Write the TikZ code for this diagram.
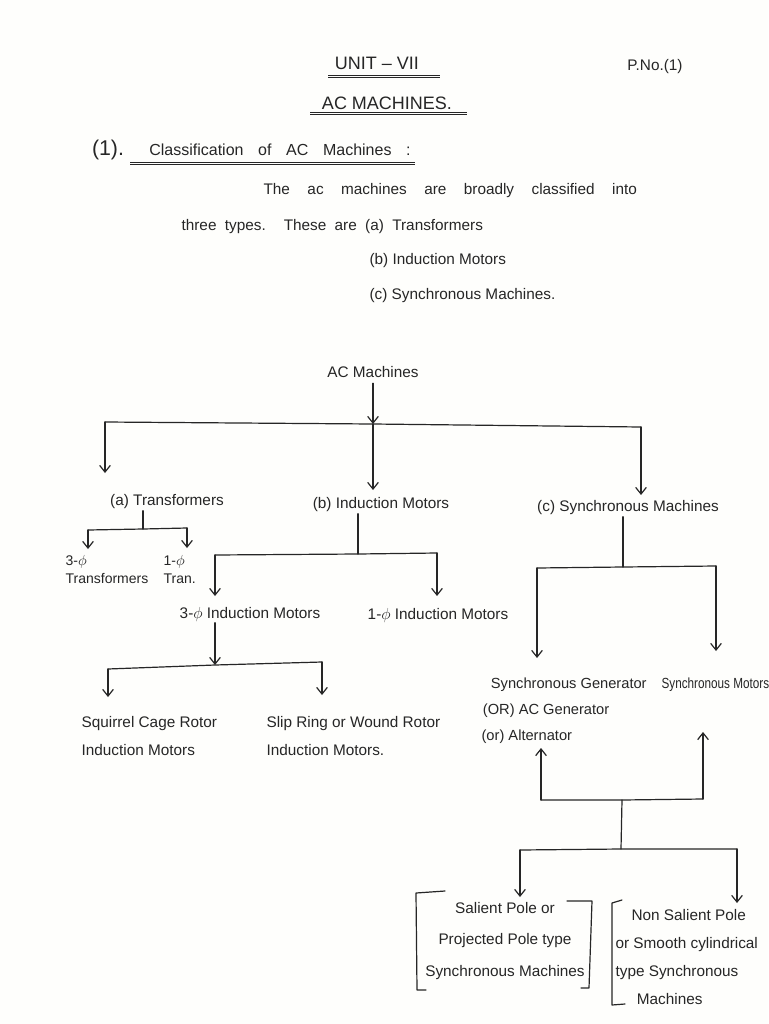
\documentclass[tikz,border=0pt]{standalone}
\usepackage{fontspec}
\setmainfont{Liberation Sans}
\usetikzlibrary{arrows.meta}
\definecolor{tinta}{HTML}{262626}
\definecolor{paper}{HTML}{FEFEFC}
\tikzset{
  text nota/.style={text=tinta, font=\fontsize{11.5}{14}\selectfont, inner sep=1pt},
  titol/.style={text=tinta, font=\fontsize{13.5}{16}\selectfont, inner sep=1pt},
  linia/.style={draw=tinta, line width=.9pt, line join=round, line cap=round},
  fletxa/.style={linia, -{Straight Barb[length=5pt,width=8pt]}},
  subratllat/.style={draw=tinta, line width=.55pt, double=paper, double distance=1.3pt},
}

\begin{document}
\begin{tikzpicture}[x=0.75pt,y=-0.75pt]
  \useasboundingbox[fill=paper] (0,0) rectangle (768,1024);

  % Capçalera de la pàgina.
  \node[titol] (unitat) at (377,63) {UNIT -- VII};
  \node[text nota] (pagina) at (655,67) {P.No.(1)};
  \node[titol] (tema) at (387,103) {AC MACHINES.};
  \draw[subratllat] (328,76.5) -- (440,76.5);
  \draw[subratllat] (310,113.5) -- (467,113.5);

  \node[text nota, font=\fontsize{16}{18}\selectfont] (num) at (108,150) {(1).};
  \node[text nota, font=\fontsize{12}{14}\selectfont] (classif) at (280,150)
    {\makebox[196pt][s]{Classification of AC Machines :}};
  \draw[subratllat] (130,163.5) -- (415,163.5);

  % Paràgraf introductori.
  \node[text nota, anchor=west] (par1) at (262,191)
    {\makebox[280pt][s]{The ac machines are broadly classified into}};
  \node[text nota, anchor=west] (par2) at (180,227)
    {\makebox[226pt][s]{three types. These are (a) Transformers}};
  \node[text nota, anchor=west] (par3) at (368,261) {(b) Induction Motors};
  \node[text nota, anchor=west] (par4) at (368,296) {(c) Synchronous Machines.};

  % Nodes de l'arbre de classificació.
  \node[text nota] (ac) at (373,372) {AC Machines};
  \node[text nota] (trafo) at (167,502) {(a) Transformers};
  \node[text nota] (ind) at (381,505) {(b) Induction Motors};
  \node[text nota] (sinc) at (628,508) {(c) Synchronous Machines};

  \node[text nota, anchor=west, align=left, font=\fontsize{10.5}{13.5}\selectfont] (trafo3) at (64,569)
    {3-$\phi$\\Transformers};
  \node[text nota, anchor=west, align=left, font=\fontsize{10.5}{13.5}\selectfont] (trafo1) at (162,569)
    {1-$\phi$\\Tran.};
  \node[text nota] (ind3) at (250,614) {3-$\phi$ Induction Motors};
  \node[text nota] (ind1) at (438,615) {1-$\phi$ Induction Motors};

  \node[text nota, anchor=west, align=left, font=\fontsize{11.5}{21}\selectfont] (gabia) at (80,736)
    {Squirrel Cage Rotor\\Induction Motors};
  \node[text nota, anchor=west, align=left, font=\fontsize{11.5}{21}\selectfont] (anells) at (265,736)
    {Slip Ring or Wound Rotor\\Induction Motors.};

  \node[text nota, anchor=west, align=left, font=\fontsize{11}{19.5}\selectfont] (gen) at (480,711)
    {\hspace{7pt}Synchronous Generator\\\hspace{1pt}(OR) AC Generator\\(or) Alternator};
  \node[text nota, anchor=west, font=\fontsize{11}{13}\selectfont] (motor) at (660,685)
    {\scalebox{.8}[1]{Synchronous Motors}};

  \node[text nota, align=center, font=\fontsize{11.5}{23.5}\selectfont] (salient) at (505,941)
    {Salient Pole or\\Projected Pole type\\Synchronous Machines};
  \node[text nota, anchor=west, align=left, font=\fontsize{11.5}{21}\selectfont] (nosalient) at (614,957)
    {\hspace{12pt}Non Salient Pole\\or Smooth cylindrical\\type Synchronous\\\hspace{16pt}Machines};

  % Punts de les línies horitzontals.
  \coordinate (b1e) at (105,422);
  \coordinate (b1m) at (373,424);
  \coordinate (b1d) at (641,427);
  \coordinate (b2e) at (88,530);
  \coordinate (b2m) at (143,529);
  \coordinate (b2d) at (187,528);
  \coordinate (b3e) at (215,555);
  \coordinate (b3m) at (358,554);
  \coordinate (b3d) at (437,553);
  \coordinate (b4e) at (108,669);
  \coordinate (b4m) at (215,665);
  \coordinate (b4d) at (322,662);
  \coordinate (b5e) at (537,568);
  \coordinate (b5m) at (623,567);
  \coordinate (b5d) at (716,566);
  \coordinate (b6e) at (541,800);
  \coordinate (b6m) at (622,800);
  \coordinate (b6d) at (703,799);
  \coordinate (b7e) at (520,850);
  \coordinate (b7m) at (621,849);
  \coordinate (b7d) at (737,849);

  % Puntes de les fletxes.
  \coordinate (p1) at (105,473);
  \coordinate (p2) at (373,490);
  \coordinate (p3) at (641,495);
  \coordinate (p4) at (88,549);
  \coordinate (p5) at (187,548);
  \coordinate (p6) at (215,596);
  \coordinate (p7) at (437,596);
  \coordinate (p8) at (108,697);
  \coordinate (p9) at (322,695);
  \coordinate (p10) at (537,658);
  \coordinate (p11) at (716,651);
  \coordinate (p12) at (541,748);
  \coordinate (p13) at (703,732);
  \coordinate (p14) at (520,897);
  \coordinate (p15) at (737,903);

  % Primer nivell.
  \draw[fletxa] (ac.south) ++(0,4) -- (b1m);
  \draw[linia] (b1e) -- (b1m) -- (b1d);
  \draw[fletxa] (b1e) -- (p1);
  \draw[fletxa] (b1m) -- (p2);
  \draw[fletxa] (b1d) -- (p3);

  % Transformadors.
  \draw[linia] (trafo.south -| b2m) -- (b2m);
  \draw[linia] (b2e) -- (b2m) -- (b2d);
  \draw[fletxa] (b2e) -- (p4);
  \draw[fletxa] (b2d) -- (p5);

  % Motors d'inducció.
  \draw[linia] (ind.south -| b3m) -- (b3m);
  \draw[linia] (b3e) -- (b3m) -- (b3d);
  \draw[fletxa] (b3e) -- (p6);
  \draw[fletxa] (b3d) -- (p7);

  \draw[fletxa] (ind3.south -| b4m) -- (b4m);
  \draw[linia] (b4e) -- (b4m) -- (b4d);
  \draw[fletxa] (b4e) -- (p8);
  \draw[fletxa] (b4d) -- (p9);

  % Màquines síncrones.
  \draw[linia] (sinc.south -| b5m) -- (b5m);
  \draw[linia] (b5e) -- (b5m) -- (b5d);
  \draw[fletxa] (b5e) -- (p10);
  \draw[fletxa] (b5d) -- (p11);

  \draw[fletxa] (b6e) -- (p12);
  \draw[fletxa] (b6d) -- (p13);
  \draw[linia] (b6e) -- (b6m) -- (b6d);
  \draw[linia] (b6m) -- (b7m);
  \draw[linia] (b7e) -- (b7m) -- (b7d);
  \draw[fletxa] (b7e) -- (p14);
  \draw[fletxa] (b7d) -- (p15);

  % Claudàtors al voltant dels tipus de rotor.
  \draw[linia] (445,891) -- (416,893) -- (417,990) -- (426,990);
  \draw[linia] (567,901) -- (592,901) -- (589,988) -- (581,988);
  \draw[linia] (622,900) -- (612,903) -- (612,1005) -- (625,1004);
\end{tikzpicture}
\end{document}
